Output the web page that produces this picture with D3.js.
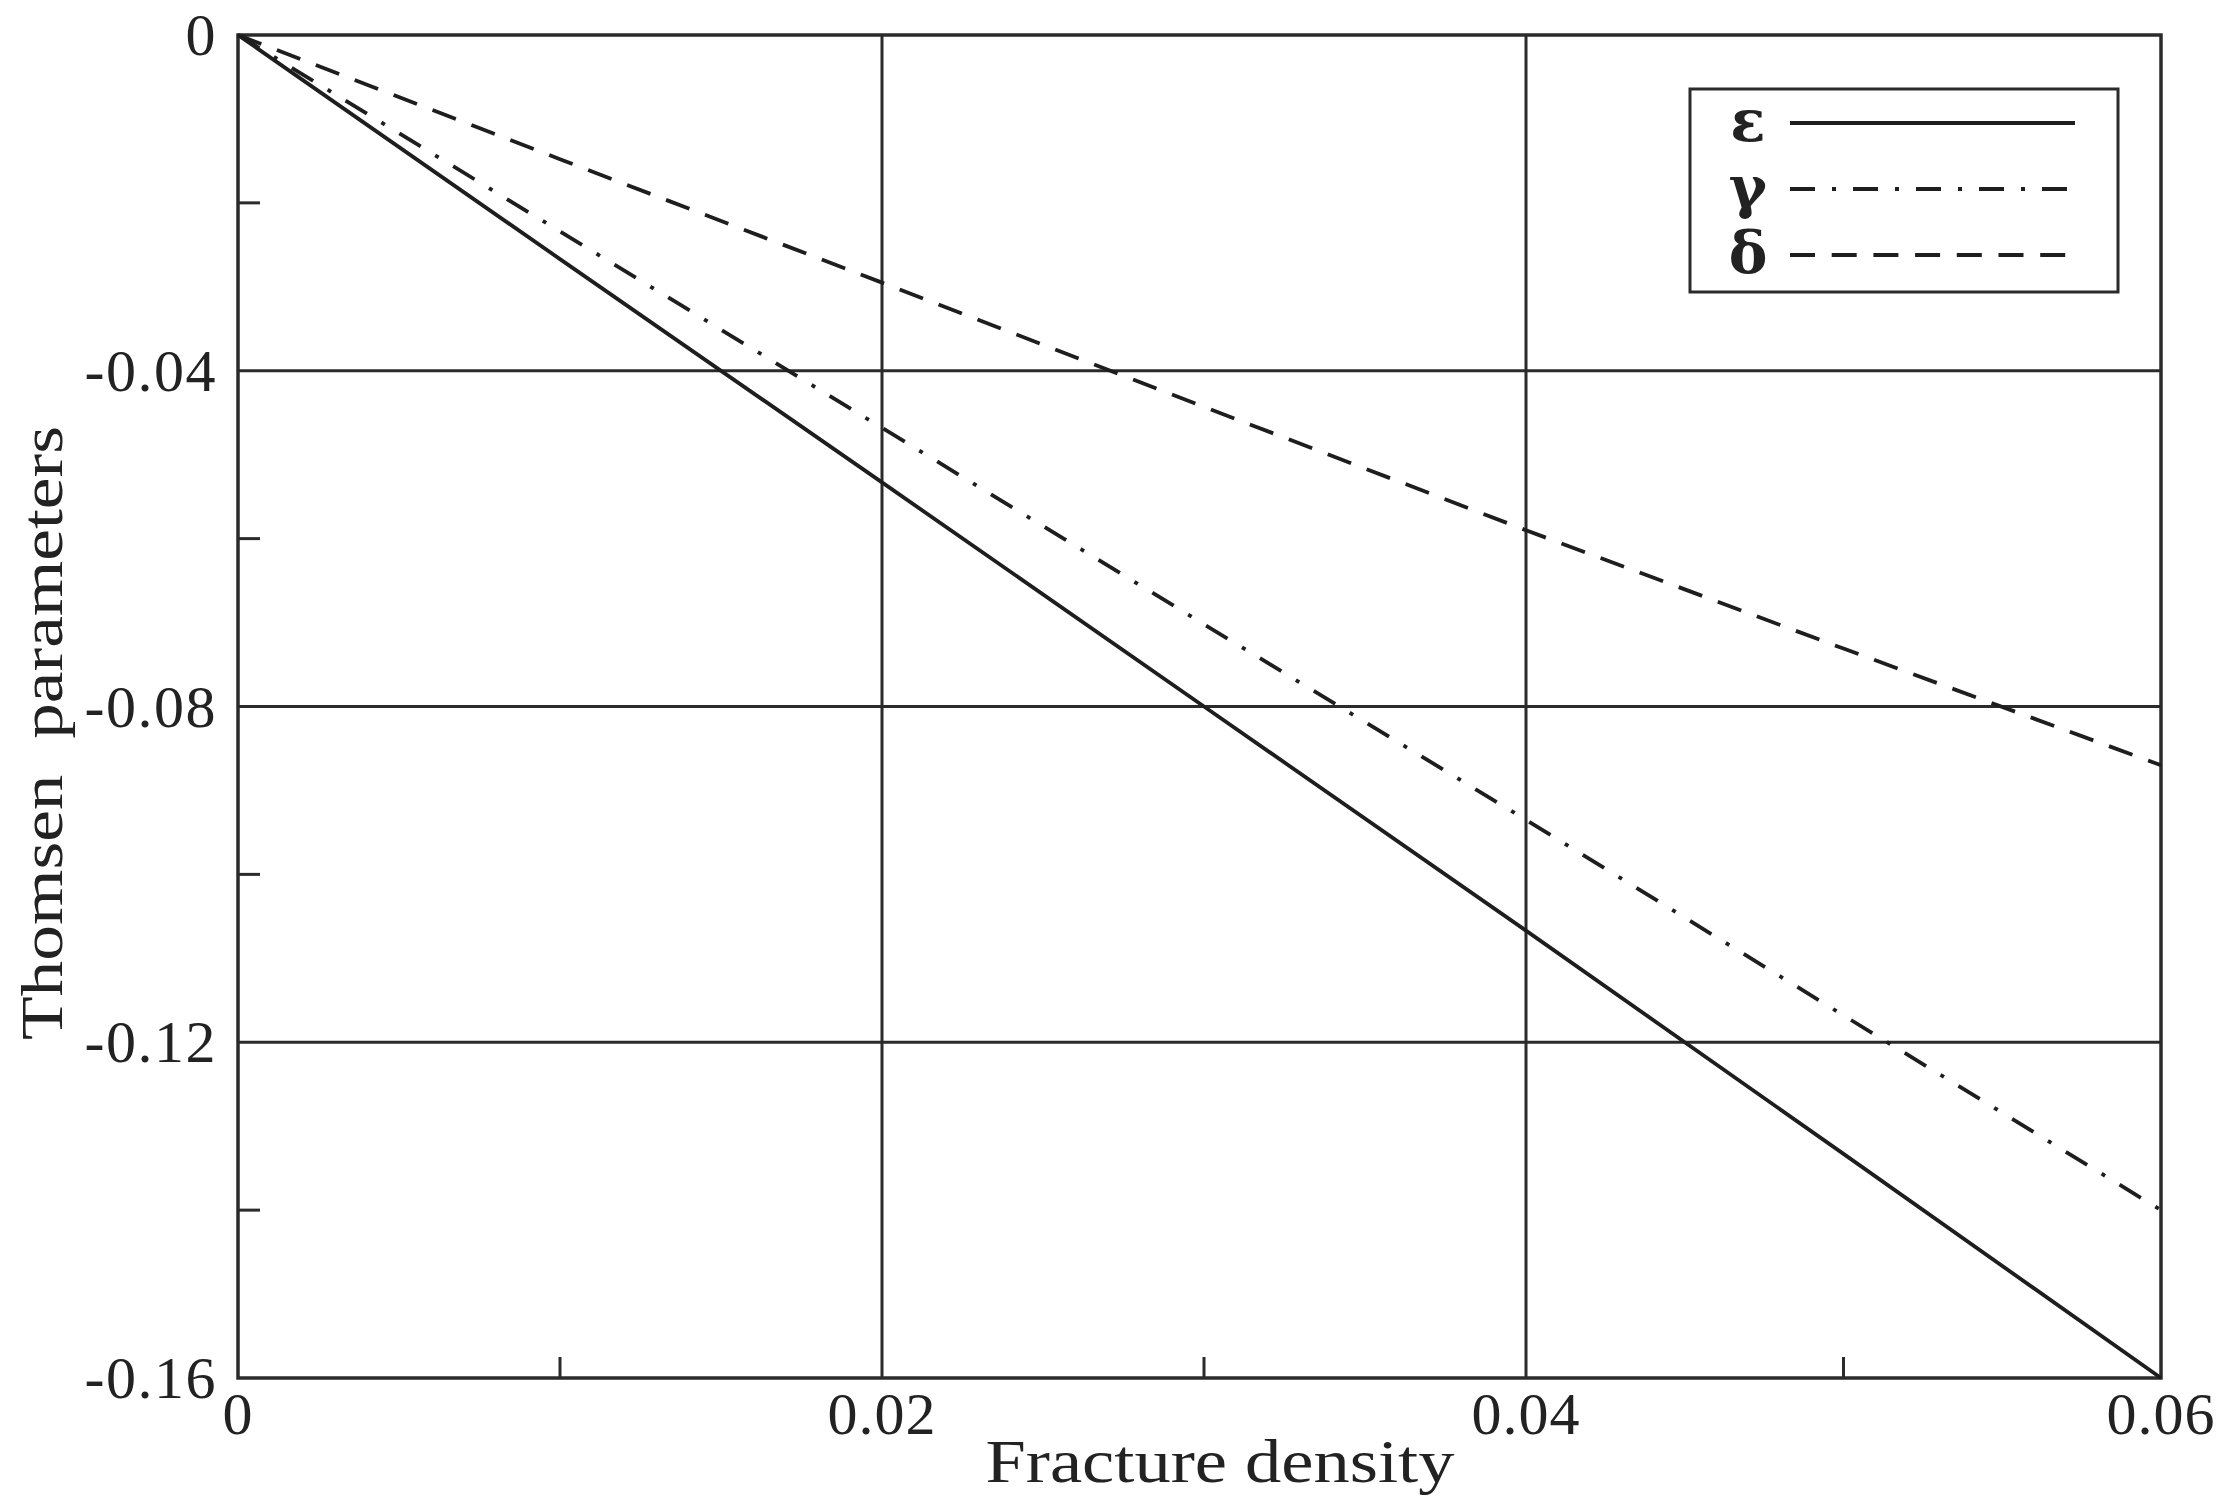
<!DOCTYPE html>
<html>
<head>
<meta charset="utf-8">
<script src="https://cdn.jsdelivr.net/npm/d3@7"></script>
<style>
html,body{margin:0;padding:0;background:#fff;}
svg{display:block;}
text{font-family:"Liberation Serif","Times New Roman",serif;fill:#222;}
</style>
</head>
<body>
<script>
// ---- data ----
const fractureDensity = [0, 0.01, 0.02, 0.03, 0.04, 0.05, 0.06];
const epsilonValues = [0, -0.0267, -0.0533, -0.08, -0.1067, -0.1333, -0.16];
const gammaValues   = [0, -0.0234, -0.0468, -0.0702, -0.0935, -0.1168, -0.14];
const deltaValues   = [0, -0.0148, -0.0295, -0.0443, -0.059, -0.0731, -0.087];
const seriesNames = ["ε", "γ", "δ"];
const xMajorTicks = [0, 0.02, 0.04, 0.06];
const xMinorTicks = [0.01, 0.03, 0.05];
const yMajorTicks = [0, -0.04, -0.08, -0.12, -0.16];
const yMinorTicks = [-0.02, -0.06, -0.10, -0.14];
const xTickLabels = ["0", "0.02", "0.04", "0.06"];
const yTickLabels = ["0", "-0.04", "-0.08", "-0.12", "-0.16"];
const xTitle = "Fracture density";
const yTitle = "Thomsen\u00a0\u00a0parameters";

// ---- layout ----
const W = 2229, H = 1506;
const L = 238, R = 2161, T = 35, B = 1378;
const ink = "#2b2b2b";

const svg = d3.select("body").append("svg").attr("width", W).attr("height", H);

const x = d3.scaleLinear().domain([0, 0.02, 0.04, 0.06]).range([L, 882, 1526, R]);
const y = d3.scaleLinear().domain([0, -0.16]).range([T, B]);

// gridlines (major)
const g = svg.append("g");
g.selectAll(".vg").data(xMajorTicks.slice(1, -1)).join("line")
  .attr("x1", d => x(d)).attr("x2", d => x(d)).attr("y1", T).attr("y2", B)
  .attr("stroke", ink).attr("stroke-width", 3);
g.selectAll(".hg").data(yMajorTicks.slice(1, -1)).join("line")
  .attr("x1", L).attr("x2", R).attr("y1", d => y(d)).attr("y2", d => y(d))
  .attr("stroke", ink).attr("stroke-width", 3);

// minor ticks (inward)
g.selectAll(".xm").data(xMinorTicks).join("line")
  .attr("x1", d => x(d)).attr("x2", d => x(d)).attr("y1", B).attr("y2", B - 21)
  .attr("stroke", ink).attr("stroke-width", 3);
g.selectAll(".ym").data(yMinorTicks).join("line")
  .attr("x1", L).attr("x2", L + 22).attr("y1", d => y(d)).attr("y2", d => y(d))
  .attr("stroke", ink).attr("stroke-width", 3);

// frame
svg.append("rect").attr("x", L).attr("y", T).attr("width", R - L).attr("height", B - T)
  .attr("fill", "none").attr("stroke", ink).attr("stroke-width", 3.5);

// tick labels
svg.selectAll(".xl").data(xMajorTicks).join("text")
  .attr("x", d => x(d)).attr("y", 1434)
  .attr("text-anchor", "middle").attr("font-size", 60).attr("letter-spacing", 1)
  .text((d, i) => xTickLabels[i]);
svg.selectAll(".yl").data(yMajorTicks).join("text")
  .attr("x", L - 21).attr("y", d => y(d) + 20)
  .attr("text-anchor", "end").attr("font-size", 60).attr("letter-spacing", 1.5)
  .text((d, i) => yTickLabels[i]);

// axis titles
svg.append("text").attr("x", 1220).attr("y", 1482).attr("text-anchor", "middle")
  .attr("font-size", 62).attr("textLength", 469).attr("lengthAdjust", "spacingAndGlyphs")
  .text(xTitle);
svg.append("text").attr("transform", "translate(62,733) rotate(-90)")
  .attr("text-anchor", "middle").attr("font-size", 60)
  .attr("textLength", 614).attr("lengthAdjust", "spacingAndGlyphs")
  .text(yTitle);

// series lines
const dashes = ["none", "25,17,4,17", "25,16.7"];
const series = [epsilonValues, gammaValues, deltaValues].map((vals, i) => ({
  name: seriesNames[i], dash: dashes[i],
  pts: fractureDensity.map((fx, j) => [fx, vals[j]])
}));
const line = d3.line().x(d => x(d[0])).y(d => y(d[1]));
svg.selectAll(".series").data(series).join("path")
  .attr("d", d => line(d.pts)).attr("fill", "none")
  .attr("stroke", "#1e1e1e").attr("stroke-width", 3.8)
  .attr("stroke-dasharray", d => d.dash);

// legend
const lg = svg.append("g");
lg.append("rect").attr("x", 1690).attr("y", 89).attr("width", 428).attr("height", 203)
  .attr("fill", "#fff").attr("stroke", ink).attr("stroke-width", 3);
const rowY = [123, 189, 255];
const lineEnd = [2075, 2068, 2068];
series.forEach((s, i) => {
  lg.append("line").attr("x1", 1790).attr("x2", lineEnd[i]).attr("y1", rowY[i]).attr("y2", rowY[i])
    .attr("stroke", "#1e1e1e").attr("stroke-width", 4.2).attr("stroke-dasharray", s.dash);
  lg.append("text").attr("x", 1748).attr("y", rowY[i] + 18).attr("text-anchor", "middle")
    .style("font-family", "'DejaVu Serif','Liberation Serif',serif")
    .attr("font-size", 58).attr("font-weight", "bold").text(s.name);
});
</script>
</body>
</html>
